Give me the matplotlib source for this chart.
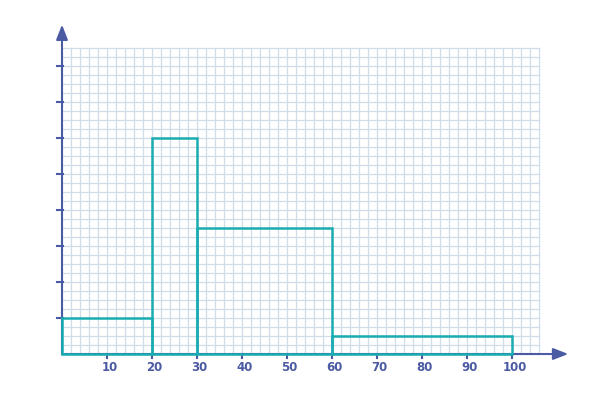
import numpy as np
import matplotlib
matplotlib.use('Agg')
import matplotlib.pyplot as plt

# class intervals and heights (frequency density)
edges = [0, 20, 30, 60, 100]
heights = [1, 6, 3.5, 0.5]
xticks = [10, 20, 30, 40, 50, 60, 70, 80, 90, 100]
yticks = [1, 2, 3, 4, 5, 6, 7, 8]

axis_col = '#4a5aa3'
bar_col = '#19adb2'
grid_col = '#cfdce9'

fig = plt.figure(figsize=(6, 4), dpi=100)
ax = fig.add_axes([0, 0, 1, 1])
ax.set_xlim(-62 / 4.5, 538 / 4.5)
ax.set_ylim(-46 / 36, 354 / 36)
ax.axis('off')

# graph paper
xmax, ymax = 106, 8.5
for gx in np.arange(0, xmax + 0.1, 2):
    ax.plot([gx, gx], [0, ymax], color=grid_col, lw=0.9, zorder=1)
for gy in np.arange(0, ymax + 0.01, 0.25):
    ax.plot([0, xmax], [gy, gy], color=grid_col, lw=0.9, zorder=1)

# bars
widths = np.diff(edges)
ax.bar(edges[:-1], heights, width=widths, align='edge', fill=False,
       edgecolor=bar_col, linewidth=1.8, zorder=3)

# axes with arrows
ax.annotate('', xy=(112.5, 0), xytext=(0, 0),
            arrowprops=dict(arrowstyle='-|>,head_length=0.9,head_width=0.35',
                            color=axis_col, lw=1.5, shrinkA=0, shrinkB=0), zorder=2)
ax.annotate('', xy=(0, 9.15), xytext=(0, 0),
            arrowprops=dict(arrowstyle='-|>,head_length=0.9,head_width=0.35',
                            color=axis_col, lw=1.5, shrinkA=0, shrinkB=0), zorder=2)

# ticks
for t in xticks:
    ax.plot([t, t], [0, -0.1], color=axis_col, lw=1.5, zorder=2)
    ax.text(t + 0.6, -0.2, str(t), ha='center', va='top', color=axis_col,
            fontsize=8.5, fontweight='bold', family='DejaVu Sans')
for t in yticks:
    ax.plot([-1.1, 0.3], [t, t], color=axis_col, lw=1.5, zorder=2)

fig.savefig('out.png', dpi=100)
